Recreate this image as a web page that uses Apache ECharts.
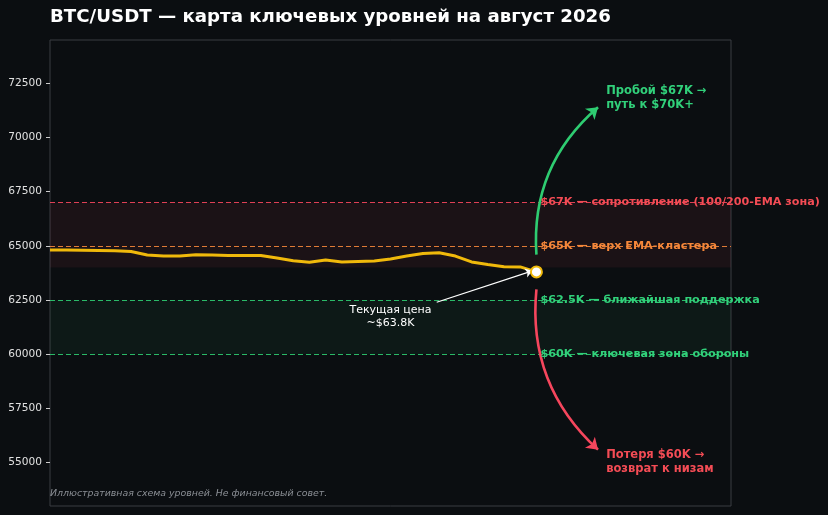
<!DOCTYPE html>
<html><head><meta charset="utf-8">
<script src="https://cdn.jsdelivr.net/npm/echarts@6/dist/echarts.min.js"></script>
<style>html,body{margin:0;padding:0;background:#0b0e11}#c{width:828px;height:515px}</style>
</head><body><div id="c"></div>
<script>
// ---- data ----
const days = [0,1,2,3,4,5,6,7,8,9,10,11,12,13,14,15,16,17,18,19,20,21,22,23,24,25,26,27,28,29,30];
const price = [64810,64810,64800,64790,64780,64740,64580,64530,64530,64590,64580,64560,64560,64560,64440,64320,64250,64350,64260,64280,64300,64400,64530,64650,64680,64530,64260,64140,64040,64030,63800];
const yTicks = [55000,57500,60000,62500,65000,67500,70000,72500];
const levels = [67000, 65000, 62500, 60000];
const levelLabels = ["$67K — сопротивление (100/200-EMA зона)", "$65K — верх EMA-кластера", "$62.5K — ближайшая поддержка", "$60K — ключевая зона обороны"];
const zones = [[64000, 67000], [60000, 62500]];
const currentPoint = [30, 63800];
const currentLabel = "Текущая цена\n~$63.8K";
const currentLabelAt = [21.0, 61720];
const currentArrow = [[23.85, 62400], [29.75, 63850]];
const upArrow = [[30, 64600], [33.8, 71400]];
const downArrow = [[30, 63000], [33.8, 55600]];
const upText = "Пробой $67K →\nпуть к $70K+";
const upTextAt = [34.3, 71810];
const downText = "Потеря $60K →\nвозврат к низам";
const downTextAt = [34.3, 55020];
const levelLabelX = 30.25;

// ---- style ----
const RED = '#f6465d', ORANGE = '#f5873a', GREEN = '#2ecc71', GOLD = '#f0b90b';
const RED_T = '#f44c55', GREEN_T = '#31d07a';
const levelColors = [RED, ORANGE, GREEN, GREEN];
const levelTextColors = [RED_T, ORANGE, GREEN_T, GREEN_T];
const FONT = 'DejaVu Sans';

const chart = echarts.init(document.getElementById('c'), null, {renderer: 'canvas'});
chart.setOption({
  backgroundColor: '#0b0e11',
  animation: false,
  textStyle: {fontFamily: FONT},
  title: {
    text: 'BTC/USDT — карта ключевых уровней на август 2026',
    left: 45, top: 3,
    textStyle: {color: '#ffffff', fontSize: 18.2, fontWeight: 'bold', fontFamily: FONT}
  },
  grid: {left: 50, right: 97, top: 40, bottom: 9, show: true, borderColor: '#3a3d42', borderWidth: 1, backgroundColor: 'transparent'},
  xAxis: {type: 'value', min: 0, max: 42, axisLine: {show: false}, axisTick: {show: false}, axisLabel: {show: false}, splitLine: {show: false}},
  yAxis: {
    type: 'value', min: 53000, max: 74500,
    axisLine: {show: false},
    axisTick: {show: true, inside: false, length: 4, lineStyle: {color: '#cccccc'}, customValues: yTicks},
    axisLabel: {color: '#e0e0e0', fontSize: 10.6, margin: 8, fontFamily: FONT, customValues: yTicks, formatter: v => String(v)},
    splitLine: {show: false}
  },
  graphic: [{
    type: 'text', left: 50, top: 489,
    style: {text: 'Иллюстративная схема уровней. Не финансовый совет.', fill: '#8b8f95', font: 'italic 9.4px "DejaVu Sans"'}
  }],
  series: [
    {
      type: 'line', data: days.map((d, i) => [d, price[i]]), showSymbol: false, symbol: 'none',
      lineStyle: {color: GOLD, width: 3}, z: 5,
      markLine: {
        silent: true, symbol: ['none', 'none'], label: {show: false},
        lineStyle: {type: [5, 3], width: 1.2},
        data: levels.map((v, i) => ({yAxis: v, lineStyle: {color: levelColors[i], type: [5, 3], width: 1.2, opacity: 0.9}}))
      },
      markArea: {
        silent: true,
        data: [
          [{yAxis: zones[0][0], itemStyle: {color: 'rgba(246,70,93,0.07)'}}, {yAxis: zones[0][1]}],
          [{yAxis: zones[1][0], itemStyle: {color: 'rgba(46,204,113,0.06)'}}, {yAxis: zones[1][1]}]
        ]
      }
    },
    {
      type: 'lines', coordinateSystem: 'cartesian2d', z: 6,
      symbol: ['none', 'arrow'], symbolSize: 11,
      data: [
        {coords: upArrow, lineStyle: {color: GREEN, width: 2.6, opacity: 1, curveness: 0.25}},
        {coords: downArrow, lineStyle: {color: RED, width: 2.6, opacity: 1, curveness: -0.25}}
      ]
    },
    {
      type: 'lines', coordinateSystem: 'cartesian2d', z: 6,
      symbol: ['none', 'arrow'], symbolSize: 7,
      data: [{coords: currentArrow, lineStyle: {color: '#ffffff', width: 1.2, opacity: 1, curveness: 0}}]
    },
    {
      type: 'scatter', z: 7, data: [currentPoint], symbolSize: 11,
      itemStyle: {color: '#ffffff', borderColor: GOLD, borderWidth: 2, opacity: 1}
    },
    {
      type: 'scatter', z: 8, symbolSize: 0, clip: false, itemStyle: {opacity: 1},
      data: levels.map((v, i) => ({value: [levelLabelX, v], label: {color: levelTextColors[i]}})),
      label: {show: true, position: 'right', distance: 0, align: 'left', verticalAlign: 'middle',
        fontSize: 11.2, fontWeight: 'bold', fontFamily: FONT, formatter: p => levelLabels[p.dataIndex]}
    },
    {
      type: 'scatter', z: 8, symbolSize: 0, clip: false, itemStyle: {opacity: 1},
      data: [
        {value: upTextAt, label: {color: GREEN_T, formatter: upText}},
        {value: downTextAt, label: {color: RED_T, formatter: downText}}
      ],
      label: {show: true, position: 'right', distance: 0, align: 'left', verticalAlign: 'middle',
        fontSize: 11.5, fontWeight: 'bold', fontFamily: FONT, lineHeight: 14}
    },
    {
      type: 'scatter', z: 8, symbolSize: 0, clip: false, itemStyle: {opacity: 1},
      data: [{value: currentLabelAt}],
      label: {show: true, position: 'inside', align: 'center', verticalAlign: 'middle', color: '#ffffff',
        fontSize: 11, fontFamily: FONT, lineHeight: 13, formatter: currentLabel}
    }
  ]
});
</script></body></html>
